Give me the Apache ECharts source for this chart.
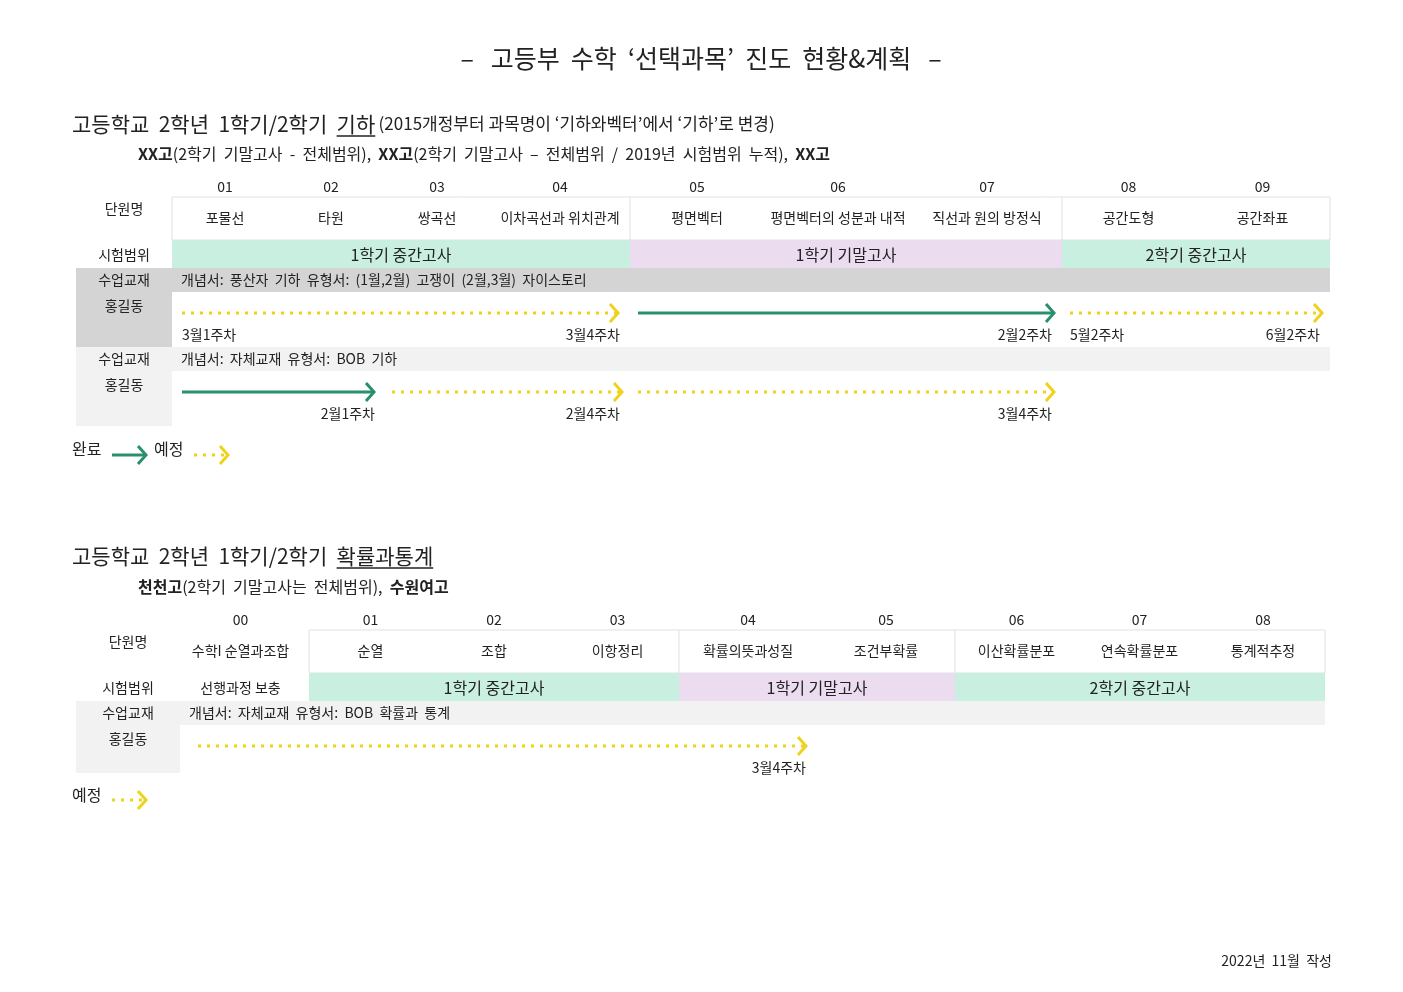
<!DOCTYPE html>
<html>
<head>
<meta charset="utf-8">
<script src="https://cdn.jsdelivr.net/npm/echarts@6/dist/echarts.min.js"></script>
<style>
  html, body { margin: 0; background: #fff; }
  #chart { width: 1403px; height: 992px; }
</style>
</head>
<body>
<div id="chart"></div>
<script>
const FONT = "'Noto Sans CJK KR', 'Noto Sans', sans-serif";
const GREEN = "#2a8f6e";
const YELLOW = "#f0d21c";
const MINT = "#c9efe0";
const LAVENDER = "#ebdcef";

// section 1 (기하)
const units1 = ["포물선", "타원", "쌍곡선", "이차곡선과 위치관계", "평면벡터", "평면벡터의 성분과 내적", "직선과 원의 방정식", "공간도형", "공간좌표"];
const unitNos1 = ["01", "02", "03", "04", "05", "06", "07", "08", "09"];
const edges1 = [172, 278, 384, 490, 630, 764, 912, 1062, 1195, 1330];
const exams1 = [["1학기 중간고사", 0, 4], ["1학기 기말고사", 4, 7], ["2학기 중간고사", 7, 9]];
const books1 = ["개념서:  풍산자  기하  유형서:  (1월,2월)  고쟁이  (2월,3월)  자이스토리", "개념서:  자체교재  유형서:  BOB  기하"];
// [row, from, to, done]
const arrows1 = [[0, 182, 618, false], [0, 638, 1054, true], [0, 1070, 1322, false],
                 [1, 182, 374, true], [1, 392, 622, false], [1, 638, 1054, false]];
// [row, x, text, align]
const weeks1 = [[0, 182, "3월1주차", "left"], [0, 620, "3월4주차", "right"], [0, 1052, "2월2주차", "right"],
                [0, 1070, "5월2주차", "left"], [0, 1320, "6월2주차", "right"],
                [1, 375, "2월1주차", "right"], [1, 620, "2월4주차", "right"], [1, 1052, "3월4주차", "right"]];

// section 2 (확률과통계)
const units2 = ["수학I 순열과조합", "순열", "조합", "이항정리", "확률의뜻과성질", "조건부확률", "이산확률분포", "연속확률분포", "통계적추정"];
const unitNos2 = ["00", "01", "02", "03", "04", "05", "06", "07", "08"];
const edges2 = [172, 309, 432, 556, 679, 817, 955, 1078, 1201, 1325];
const exams2 = [["선행과정 보충", 0, 1, "#ffffff"], ["1학기 중간고사", 1, 4, MINT], ["1학기 기말고사", 4, 6, LAVENDER], ["2학기 중간고사", 6, 9, MINT]];
const books2 = ["개념서:  자체교재  유형서:  BOB  확률과  통계"];
const arrows2 = [[0, 198, 806, false]];
const weeks2 = [[0, 806, "3월4주차", "right"]];

// build marks
const rects = [];   // [x0, y0, x1, y1, fill, stroke]
const texts = [];   // [x, y, text, size, align, weight]
const arrows = [];  // [x0, x1, y, done]
const lines = [];   // [x0, y0, x1, y1]

function section(o) {
  const e = o.edges, R = e[e.length - 1];
  rects.push([e[o.boxFrom], o.y, R, o.y + 43, "#ffffff", "#dde3e8"]);
  o.dividers.forEach(i => lines.push([e[i], o.y, e[i], o.y + 43]));
  o.units.forEach((u, i) => {
    const cx = (e[i] + e[i + 1]) / 2;
    texts.push([cx, o.y - 10, o.nos[i], 14, "center", "normal"]);
    texts.push([cx, o.y + 21, u, 14, "center", "normal"]);
  });
  texts.push([o.lx, o.y + 12, "단원명", 14, "center", "normal"]);
  const ey = o.y + 43;
  o.exams.forEach(x => {
    rects.push([e[x[1]], ey, e[x[2]], ey + 28, x[3] || (x[0].indexOf("기말") >= 0 ? LAVENDER : MINT), null]);
    texts.push([(e[x[1]] + e[x[2]]) / 2, ey + 15, x[0], x[3] === "#ffffff" ? 14 : 16, "center", "normal"]);
  });
  texts.push([o.lx, ey + 15, "시험범위", 14, "center", "normal"]);
  let ty = ey + 28;
  o.books.forEach((b, r) => {
    const bg = o.bg[r];
    rects.push([76, ty, o.bookX, ty + o.blockH, bg, null]);
    rects.push([o.bookX, ty, R, ty + 24, bg, null]);
    texts.push([o.lx, ty + 12, "수업교재", 14, "center", "normal"]);
    texts.push([o.lx, ty + 38, "홍길동", 14, "center", "normal"]);
    texts.push([o.bookX + 9, ty + 12, b, 14, "left", "normal"]);
    o.arrows.filter(a => a[0] === r).forEach(a => arrows.push([a[1], a[2], ty + 45, a[3]]));
    o.weeks.filter(w => w[0] === r).forEach(w => texts.push([w[1], ty + 67, w[2], 14, w[3], "normal"]));
    ty += o.blockH;
  });
}

section({ edges: edges1, y: 197, units: units1, nos: unitNos1, boxFrom: 0, dividers: [4, 7],
  exams: exams1, books: books1, bg: ["#d4d4d4", "#f2f2f2"], bookX: 172, blockH: 79, lx: 124,
  arrows: arrows1, weeks: weeks1 });
section({ edges: edges2, y: 630, units: units2, nos: unitNos2, boxFrom: 1, dividers: [4, 6],
  exams: exams2, books: books2, bg: ["#f2f2f2"], bookX: 180, blockH: 72, lx: 128,
  arrows: arrows2, weeks: weeks2 });

// legends
texts.push([72, 449, "완료", 16, "left", "normal"]);
arrows.push([112, 146, 455, true]);
texts.push([154, 449, "예정", 16, "left", "normal"]);
arrows.push([194, 228, 455, false]);
texts.push([72, 795, "예정", 16, "left", "normal"]);
arrows.push([112, 146, 800, false]);

const chart = echarts.init(document.getElementById("chart"));

const ctx = document.createElement("canvas").getContext("2d");
function textW(s, size) { ctx.font = size + "px " + FONT; return ctx.measureText(s).width; }

function rectItem(params, api) {
  const a = api.coord([api.value(0), api.value(1)]);
  const b = api.coord([api.value(2), api.value(3)]);
  const d = rects[params.dataIndex];
  return { type: "rect", shape: { x: a[0], y: a[1], width: b[0] - a[0], height: b[1] - a[1] },
    style: { fill: d[4], stroke: d[5] || null, lineWidth: 1 } };
}

function arrowItem(params, api) {
  const d = arrows[params.dataIndex];
  const a = api.coord([d[0], d[2]]);
  const b = api.coord([d[1], d[2]]);
  const col = d[3] ? GREEN : YELLOW;
  return { type: "group", children: [
    { type: "line", shape: { x1: a[0], y1: a[1], x2: b[0] - 2, y2: b[1] },
      style: { stroke: col, lineWidth: 3, lineDash: d[3] ? null : [3, 6] } },
    { type: "polyline", shape: { points: [[b[0] - 8, b[1] - 9], [b[0], b[1]], [b[0] - 8, b[1] + 9]] },
      style: { stroke: col, lineWidth: 3, fill: null } }
  ] };
}

function textItem(params, api) {
  const d = texts[params.dataIndex];
  const p = api.coord([d[0], d[1]]);
  return { type: "text", x: p[0], y: p[1],
    style: { text: d[2], font: d[5] + " " + d[3] + "px " + FONT, fill: "#222", align: d[4], verticalAlign: "middle" } };
}

function lineItem(params, api) {
  const d = lines[params.dataIndex];
  const a = api.coord([d[0], d[1]]), b = api.coord([d[2], d[3]]);
  return { type: "line", shape: { x1: a[0], y1: a[1], x2: b[0], y2: b[1] }, style: { stroke: "#dde3e8", lineWidth: 1 } };
}

const rich = {
  h: { fontSize: 21, fontFamily: FONT },
  s: { fontSize: 17, fontFamily: FONT },
  n: { fontSize: 16, fontFamily: FONT },
  b: { fontSize: 16, fontFamily: FONT, fontWeight: "bold" }
};

const head1 = "고등학교  2학년  1학기/2학기  ";
const u1x = 72 + textW(head1, 21), u1w = textW("기하", 21);
const u2x = 72 + textW(head1, 21), u2w = textW("확률과통계", 21);

chart.setOption({
  animation: false,
  grid: { left: 0, right: 0, top: 0, bottom: 0 },
  xAxis: { type: "value", min: 0, max: 1403, show: false },
  yAxis: { type: "value", min: 0, max: 992, inverse: true, show: false },
  graphic: [
    { type: "text", x: 701, y: 58, style: { text: "–   고등부  수학  ‘선택과목’  진도  현황&계획   –", font: "25px " + FONT, fill: "#222", align: "center", verticalAlign: "middle" } },
    { type: "text", x: 72, y: 124, style: { text: "{h|" + head1 + "기하} {s|(2015개정부터 과목명이 ‘기하와벡터’에서 ‘기하’로 변경)}", rich: rich, fill: "#222", verticalAlign: "middle" } },
    { type: "line", shape: { x1: u1x, y1: 136, x2: u1x + u1w, y2: 136 }, style: { stroke: "#222", lineWidth: 1.5 } },
    { type: "text", x: 138, y: 154, style: { text: "{b|XX고}{n|(2학기  기말고사  -  전체범위),  }{b|XX고}{n|(2학기  기말고사  –  전체범위  /  2019년  시험범위  누적),  }{b|XX고}", rich: rich, fill: "#222", verticalAlign: "middle" } },
    { type: "text", x: 72, y: 556, style: { text: "{h|" + head1 + "확률과통계}", rich: rich, fill: "#222", verticalAlign: "middle" } },
    { type: "line", shape: { x1: u2x, y1: 568, x2: u2x + u2w, y2: 568 }, style: { stroke: "#222", lineWidth: 1.5 } },
    { type: "text", x: 138, y: 587, style: { text: "{b|천천고}{n|(2학기  기말고사는  전체범위),  }{b|수원여고}", rich: rich, fill: "#222", verticalAlign: "middle" } },
    { type: "text", x: 1332, y: 961, style: { text: "2022년  11월  작성", font: "14px " + FONT, fill: "#222", align: "right", verticalAlign: "middle" } }
  ],
  series: [
    { type: "custom", renderItem: rectItem, data: rects.map(r => r.slice(0, 4)), silent: true },
    { type: "custom", renderItem: lineItem, data: lines, silent: true },
    { type: "custom", renderItem: textItem, data: texts.map(t => [t[0], t[1]]), silent: true },
    { type: "custom", renderItem: arrowItem, data: arrows.map(a => [a[0], a[2]]), silent: true }
  ]
});
</script>
</body>
</html>
